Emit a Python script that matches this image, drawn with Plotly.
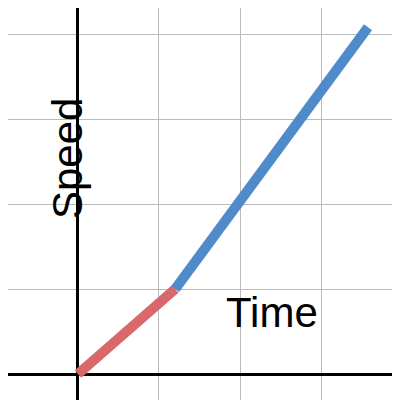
import plotly.graph_objects as go

red_x = [0, 1.2]
red_y = [0, 1.0]
blue_x = [1.2, 3.58]
blue_y = [1.0, 4.08]

fig = go.Figure()
fig.add_trace(go.Scatter(x=red_x, y=red_y, mode="lines",
                         line=dict(color="#d9686b", width=10), hoverinfo="skip"))
fig.add_trace(go.Scatter(x=blue_x, y=blue_y, mode="lines",
                         line=dict(color="#4f8acb", width=10), hoverinfo="skip"))

fig.add_annotation(x=0.085, y=0.78, xref="paper", yref="paper", text="Speed",
                   textangle=-90, showarrow=False,
                   font=dict(family="Liberation Sans", size=42, color="black"))
fig.add_annotation(x=0.78, y=0.175, xref="paper", yref="paper", text="Time",
                   showarrow=False,
                   font=dict(family="Liberation Sans", size=42, color="black"))

fig.update_layout(
    width=400, height=400, margin=dict(l=0, r=0, t=0, b=0),
    paper_bgcolor="white", plot_bgcolor="white", showlegend=False,
    xaxis=dict(range=[-0.864, 4.074], dtick=1, showgrid=True, gridcolor="#bbbbbb",
               gridwidth=1, zeroline=True, zerolinecolor="black", zerolinewidth=3,
               showticklabels=False, ticks=""),
    yaxis=dict(range=[-0.4, 4.306], dtick=1, showgrid=True, gridcolor="#bbbbbb",
               gridwidth=1, zeroline=True, zerolinecolor="black", zerolinewidth=3,
               showticklabels=False, ticks=""),
)
fig.write_html("out.html")
